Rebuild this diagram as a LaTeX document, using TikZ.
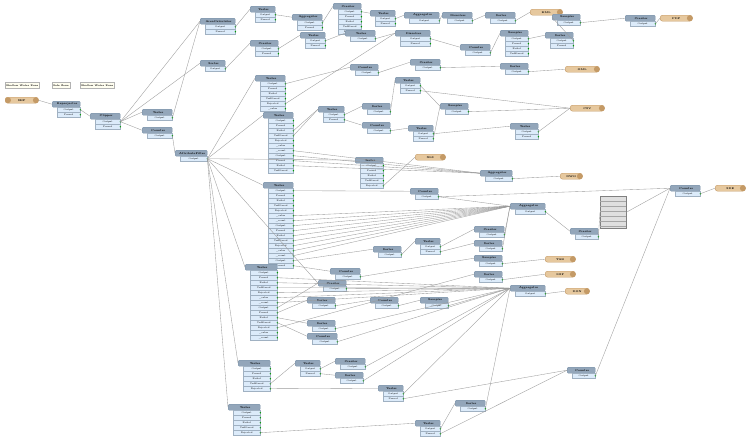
\documentclass[tikz,border=0pt]{standalone}
\usetikzlibrary{calc}
\definecolor{hd}{HTML}{93A6BA}
\definecolor{rw}{HTML}{DCEBFA}
\definecolor{bd}{HTML}{7890A8}
\definecolor{tan}{HTML}{E6C89E}
\definecolor{tand}{HTML}{C49A66}
\definecolor{ln}{HTML}{9A9A9A}
\tikzset{
 hdr/.style={draw=bd,fill=hd,rounded corners=1.2pt,minimum height=6pt,inner sep=0.5pt,font=\fontsize{2.6}{3}\selectfont\bfseries},
 row/.style={draw=bd!70,fill=rw,minimum height=5pt,inner sep=0.5pt,font=\fontsize{2.3}{2.6}\selectfont},
 outp/.style={draw=tand,fill=tan,rounded corners=2.5pt,minimum height=6pt,inner sep=0.5pt,font=\fontsize{2.6}{3}\selectfont\bfseries},
 note/.style={draw=gray!60,fill=yellow!6,minimum height=6pt,inner sep=1pt,font=\fontsize{2.4}{3}\selectfont\bfseries},
 conn/.style={draw=ln,line width=0.35pt},
}
\newcommand\tf[6]{%
 \node[hdr,minimum width=#4pt,anchor=north west] (#1) at (#2,#3) {\hspace*{2pt}#5};
 \foreach \k in {1,...,#6}{%
  \pgfmathsetmacro\yy{#3+6+(\k-1)*5}%
  \pgfmathparse{{"Output","Passed","Failed","Unfiltered","Rejected","\_value","\_count"}[mod(\k-1,7)]}%
  \edef\lbl{\pgfmathresult}%
  \node[row,minimum width={(#4-5)*1pt},anchor=north west] (#1-\k) at (#2+5,\yy) {\lbl};
  \fill[green!60!black] (#1-\k.east) circle (0.8pt);
 }%
}
\newcommand\op[4]{%
 \node[outp,minimum width=#4pt,anchor=north west] (#1) at (#2,#3) {#1};
 \fill[tand] (#1.east) ++(-2.5,0) circle (3pt);
}
\newcommand\cn[2]{\draw[conn] (#1.east) -- (#2.west);}
\begin{document}
\begin{tikzpicture}[x=1pt,y=-1pt]
\useasboundingbox (0,0) rectangle (755,439);
\fill[white] (0,0) rectangle (755,439);
% notes
\node[note,anchor=north west] (n1) at (5,82) {Shallow Water Zone};
\node[note,anchor=north west] (n2) at (52,82) {Safe Zone};
\node[note,anchor=north west] (n3) at (80,82) {Shallow Water Zone};
% reader
\op{SHP}{5}{97}{33}
\fill[tand] (SHP.west) ++(3,0) circle (3pt);
\tf{A}{52}{101}{28}{Reprojector}{2}
\tf{B}{90}{113}{30}{Clipper}{2}
\tf{C}{142}{109}{30}{Tester}{1}
\tf{D}{142}{127}{30}{Counter}{1}
\tf{E}{175}{150}{32}{AttributeFilter}{1}
% top chain
\tf{F}{200}{18}{35}{AreaCalculator}{2}
\tf{G}{250}{6}{25}{Tester}{2}
\tf{H}{292}{14}{30}{Aggregator}{2}
\tf{I}{333}{3}{28}{Creator}{5}
\tf{J}{370}{10}{25}{Tester}{2}
\tf{K}{404}{12}{35}{Aggregator}{1}
\tf{L}{442}{12}{30}{Dissolver}{1}
\tf{M}{485}{12}{30}{Sorter}{1}
\op{KML}{530}{9}{32}
\tf{N}{552}{14}{28}{Sampler}{1}
\tf{O}{625}{15}{30}{Creator}{1}
\op{PDF}{660}{15}{32}
% second chain
\tf{P}{200}{60}{25}{Sorter}{1}
\tf{Q}{250}{40}{28}{Creator}{2}
\tf{R}{300}{32}{25}{Tester}{2}
\tf{S}{345}{30}{30}{Tester}{1}
\tf{T}{395}{30}{35}{Dissolver}{2}
\tf{U}{460}{44}{30}{Counter}{1}
\tf{V}{500}{30}{28}{Sampler}{4}
\tf{W}{545}{32}{28}{Sorter}{2}
\tf{X}{255}{75}{30}{Tester}{6}
\tf{Y}{350}{64}{28}{Counter}{1}
\tf{Z}{410}{59}{30}{Creator}{1}
\tf{Za}{500}{63}{28}{Sorter}{1}
\op{GML}{565}{66}{34}
% third block
\tf{AA}{263}{112}{30}{Tester}{11}
\tf{AB}{318}{106}{26}{Tester}{2}
\tf{AC}{362}{103}{28}{Sorter}{1}
\tf{AD}{362}{122}{28}{Counter}{1}
\tf{AE}{408}{125}{25}{Tester}{2}
\tf{AF}{395}{77}{25}{Tester}{2}
\tf{AG}{440}{103}{28}{Sampler}{1}
\tf{AH}{510}{123}{28}{Tester}{2}
\op{CSV}{570}{105}{34}
\tf{AI}{355}{157}{28}{Tester}{5}
\op{XLS}{415}{154}{30}
\tf{AJ}{480}{170}{32}{Aggregator}{1}
\op{DWG}{560}{173}{22}
% fourth block
\tf{BA}{263}{182}{30}{Tester}{16}
\tf{BB}{410}{188}{28}{Counter}{1}
\tf{BC}{510}{203}{35}{Aggregator}{1}
\tf{BD}{570}{228}{28}{Creator}{1}
\node[draw=gray,fill=gray!25,minimum width=26pt,minimum height=32pt,anchor=north west,inner sep=0pt] (BE) at (600,196) {};
\foreach \k in {0,...,5}{\draw[gray!70] (600,{201+\k*5}) -- (626,{201+\k*5});}
\tf{BF}{670}{185}{30}{Counter}{1}
\op{SDE}{715}{185}{30}
\tf{BG}{373}{246}{28}{Sorter}{1}
\tf{BH}{415}{238}{25}{Tester}{2}
\tf{BI}{474}{226}{30}{Creator}{1}
\tf{BJ}{474}{240}{28}{Sorter}{1}
\tf{BK}{474}{255}{28}{Sampler}{1}
\tf{BL}{330}{268}{30}{Counter}{1}
\tf{BM}{474}{271}{28}{Sorter}{1}
\op{TAB}{545}{256}{30}
\op{MIF}{545}{271}{30}
% fifth block
\tf{CA}{245}{264}{32}{Tester}{14}
\tf{CB}{318}{280}{28}{Creator}{1}
\tf{CC}{307}{297}{28}{Sorter}{1}
\tf{CD}{370}{297}{28}{Counter}{1}
\tf{CE}{420}{297}{28}{Sampler}{1}
\tf{CF}{307}{320}{28}{Sorter}{1}
\tf{CG}{307}{333}{30}{Counter}{1}
\tf{CH}{510}{285}{35}{Aggregator}{1}
\op{DGN}{565}{288}{24}
% sixth
\tf{DA}{238}{360}{32}{Tester}{5}
\tf{DB}{295}{360}{25}{Tester}{2}
\tf{DC}{335}{358}{30}{Creator}{1}
\tf{DD}{335}{372}{28}{Sorter}{1}
\tf{DE}{378}{385}{25}{Tester}{2}
\tf{DF}{567}{367}{28}{Counter}{1}
\tf{EA}{228}{404}{32}{Tester}{5}
\tf{EB}{415}{420}{25}{Tester}{2}
\tf{EC}{455}{400}{30}{Sorter}{1}
% connections
\cn{SHP}{A}\cn{A-1}{B}\cn{B-1}{C}\cn{B-1}{D}\cn{B-1}{F}\cn{B-1}{P}\cn{D-1}{E}
\cn{C-1}{F}
\cn{F-1}{G}\cn{G-1}{H}\cn{H-1}{I}\cn{I-1}{J}\cn{J-1}{K}\cn{K-1}{L}\cn{L-1}{M}\cn{M-1}{KML}\cn{N-1}{O}\cn{O-1}{PDF}
\cn{P-1}{Q}\cn{Q-1}{R}\cn{R-1}{S}\cn{S-1}{T}\cn{T-1}{U}\cn{U-1}{V}\cn{V-1}{W}\cn{W-1}{N}
\foreach \t in {X,AA,BA,CA,DA,EA}{\draw[conn] (E-1.east) -- (\t.west);}
\cn{E-1}{AI}\cn{E-1}{CB}
\cn{X-1}{Y}\cn{X-5}{T}\cn{Y-1}{Z}\cn{Z-1}{Za}\cn{Za-1}{GML}
\cn{AA-3}{AB}\cn{AA-4}{AB}\cn{AB-1}{AC}\cn{AB-2}{AD}\cn{AC-1}{AF}\cn{AD-1}{AE}\cn{AF-1}{AG}\cn{AE-1}{AH}\cn{AG-1}{CSV}\cn{AH-1}{CSV}\cn{AF-2}{CSV}\cn{AE-2}{AG}
\foreach \k in {7,8,9,10}{\draw[conn] (AA-\k.east) -- (AJ.west);}
\cn{AI-5}{XLS}\cn{AJ-1}{DWG}
\foreach \k in {6,...,14}{\draw[conn] (BA-\k.east) -- (BC.west);}
\cn{BA-1}{BB}\cn{BB-1}{BC}\cn{BC-1}{BD}\cn{BD-1}{BE}\cn{BE}{BF}\cn{BF-1}{SDE}\cn{BB-1}{BF}
\cn{BA-15}{BG}\cn{BG-1}{BH}\cn{BH-1}{BI}\cn{BH-2}{BJ}\cn{BI-1}{BC}\cn{BJ-1}{BC}\cn{BA-16}{BL}\cn{BL-1}{BK}\cn{BK-1}{TAB}\cn{BM-1}{MIF}
\foreach \k in {2,3,4,5,6,7}{\draw[conn] (CA-\k.east) -- (CH.west);}
\cn{CA-8}{CB}\cn{CA-9}{CC}\cn{CA-10}{CF}\cn{CA-11}{CG}\cn{CB-1}{CH}\cn{CC-1}{CD}\cn{CD-1}{CE}\cn{CE-1}{CH}\cn{CF-1}{CH}\cn{CG-1}{CH}\cn{CH-1}{DGN}\cn{CA-12}{BM}
\cn{DA-4}{DB}\cn{DB-1}{DC}\cn{DB-2}{DD}\cn{DC-1}{CH}\cn{DD-1}{CH}\cn{DA-5}{DE}\cn{DE-1}{CH}\cn{DE-2}{DF}\cn{DF-1}{BF}
\cn{EA-5}{EB}\cn{EB-1}{EC}\cn{EC-1}{CH}\cn{EB-2}{DF}
\end{tikzpicture}
\end{document}
